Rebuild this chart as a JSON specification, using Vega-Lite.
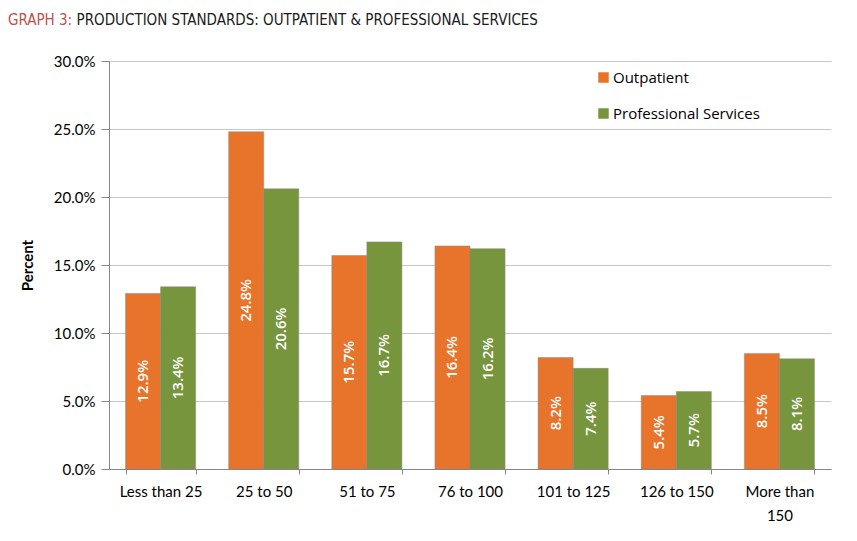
{
  "$schema": "https://vega.github.io/schema/vega-lite/v6.json",
  "autosize": {"type": "none"},
  "width": 722,
  "height": 408,
  "padding": {"left": 109, "top": 61, "right": 26, "bottom": 72},
  "background": "white",
  "title": {
    "text": "GRAPH 3:",
    "subtitle": "\u200b\u00a0\u00a0\u00a0\u00a0\u00a0\u00a0\u00a0\u00a0\u00a0\u00a0\u00a0\u00a0\u00a0\u00a0\u00a0\u00a0PRODUCTION STANDARDS: OUTPATIENT & PROFESSIONAL SERVICES",
    "anchor": "start",
    "frame": "group",
    "dx": -101,
    "offset": 26,
    "font": "'DejaVu Sans Condensed', 'Liberation Sans Narrow', Roboto",
    "fontSize": 15,
    "fontWeight": 500,
    "color": "#C0504D",
    "subtitleFont": "'DejaVu Sans Condensed', 'Liberation Sans Narrow', Roboto",
    "subtitleFontSize": 15,
    "subtitleFontWeight": 500,
    "subtitleColor": "#1a1a1a",
    "subtitlePadding": -15
  },
  "data": {
    "values": [
      {"category": "Less than 25", "series": "Outpatient", "value": 0.129},
      {"category": "Less than 25", "series": "Professional Services", "value": 0.134},
      {"category": "25 to 50", "series": "Outpatient", "value": 0.248},
      {"category": "25 to 50", "series": "Professional Services", "value": 0.206},
      {"category": "51 to 75", "series": "Outpatient", "value": 0.157},
      {"category": "51 to 75", "series": "Professional Services", "value": 0.167},
      {"category": "76 to 100", "series": "Outpatient", "value": 0.164},
      {"category": "76 to 100", "series": "Professional Services", "value": 0.162},
      {"category": "101 to 125", "series": "Outpatient", "value": 0.082},
      {"category": "101 to 125", "series": "Professional Services", "value": 0.074},
      {"category": "126 to 150", "series": "Outpatient", "value": 0.054},
      {"category": "126 to 150", "series": "Professional Services", "value": 0.057},
      {"category": "More than 150", "series": "Outpatient", "value": 0.085},
      {"category": "More than 150", "series": "Professional Services", "value": 0.081}
    ]
  },
  "encoding": {
    "x": {
      "field": "category",
      "type": "nominal",
      "sort": null,
      "scale": {"paddingInner": 0.32, "paddingOuter": 0.16},
      "axis": {
        "title": null,
        "labelAngle": 0,
        "labelFont": "Lato",
        "labelFontSize": 15,
        "labelColor": "#000000",
        "labelPadding": 10,
        "tickBand": "extent",
        "tickSize": 5,
        "tickColor": "#868686",
        "domainColor": "#868686",
        "grid": false,
        "labelExpr": "datum.label == 'More than 150' ? ['More than', '150'] : datum.label",
        "labelLineHeight": 24
      }
    },
    "xOffset": {"field": "series", "type": "nominal", "sort": ["Outpatient", "Professional Services"]}
  },
  "layer": [
    {
      "mark": {"type": "bar", "stroke": "#8a8a8a", "strokeWidth": 0.8, "strokeOpacity": 0.6},
      "encoding": {
        "y": {
          "field": "value",
          "type": "quantitative",
          "scale": {"domain": [0, 0.3]},
          "axis": {
            "title": "Percent",
            "titleFont": "Lato",
            "titleFontSize": 15,
            "titleFontWeight": "bold",
            "titleColor": "#000000",
            "titlePadding": 18,
            "format": ".1%",
            "values": [0, 0.05, 0.1, 0.15, 0.2, 0.25, 0.3],
            "labelFont": "Lato",
            "labelFontSize": 15,
            "labelColor": "#000000",
            "labelPadding": 6,
            "tickSize": 8,
            "tickColor": "#868686",
            "domainColor": "#868686",
            "gridColor": "#c8c8c8",
            "gridWidth": 1
          }
        },
        "color": {
          "field": "series",
          "type": "nominal",
          "sort": ["Outpatient", "Professional Services"],
          "scale": {"domain": ["Outpatient", "Professional Services"], "range": ["#E8732A", "#77953D"]},
          "legend": {
            "title": null,
            "orient": "none",
            "legendX": 487,
            "legendY": 9,
            "symbolType": "square",
            "symbolSize": 110,
            "symbolStrokeWidth": 0,
            "labelFont": "Open Sans",
            "labelFontSize": 15,
            "labelColor": "#000000",
            "rowPadding": 20,
            "labelOffset": 2
          }
        }
      }
    },
    {
      "transform": [{"calculate": "datum.value / 2", "as": "mid"}],
      "mark": {"type": "text", "angle": 270, "color": "white", "font": "Open Sans", "fontSize": 15, "fontWeight": 600, "align": "center", "baseline": "middle"},
      "encoding": {
        "y": {"field": "mid", "type": "quantitative"},
        "text": {"field": "value", "type": "quantitative", "format": ".1%"}
      }
    }
  ],
  "config": {
    "view": {"stroke": null}
  }
}
